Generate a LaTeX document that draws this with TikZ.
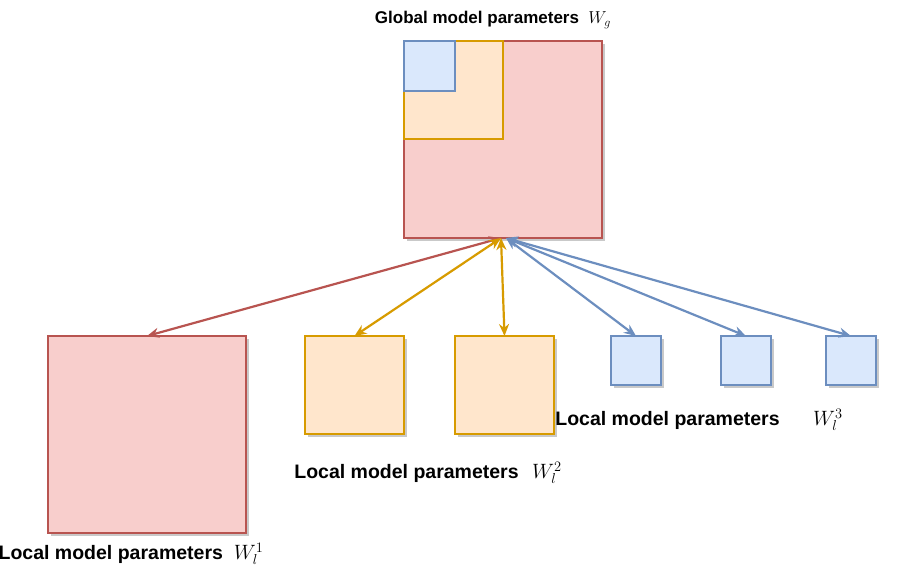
\documentclass[tikz,border=0pt]{standalone}
\usepackage{fontspec}
\setmainfont{Liberation Sans}
\usetikzlibrary{shadows,arrows.meta}
\definecolor{rf}{HTML}{F8CECC}\definecolor{rs}{HTML}{B85450}
\definecolor{yf}{HTML}{FFE6CC}\definecolor{ys}{HTML}{D79B00}
\definecolor{bf}{HTML}{DAE8FC}\definecolor{bs}{HTML}{6C8EBF}
\tikzset{
 bx/.style={draw, line width=2pt, inner sep=0pt, outer sep=0pt},
 sh/.style={drop shadow={shadow xshift=3pt, shadow yshift=-3pt, fill=black!30, opacity=0.7}},
 red/.style={bx, sh, fill=rf, draw=rs},
 yel/.style={bx, fill=yf, draw=ys},
 blu/.style={bx, fill=bf, draw=bs},
 lab/.style={font=\bfseries\fontsize{19.5}{22}\selectfont},
 con/.style={line width=2.2pt, {Stealth[length=12pt,width=10pt]}-{Stealth[length=12pt,width=10pt]}},
}
\begin{document}
\begin{tikzpicture}[x=1pt,y=-1pt]
\useasboundingbox (0,0) rectangle (902,579);
\node[red, minimum width=198pt, minimum height=197pt] (g) at (503,139.5) {};
\node[yel, minimum width=99pt, minimum height=98pt] (gy) at (453.5,90) {};
\node[blu, minimum width=51pt, minimum height=50pt] (gb) at (429.5,66) {};
\node[lab, font=\bfseries\fontsize{17}{20}\selectfont] (tg) at (493,20) {Global model parameters \ $W_g$};
\node[red, minimum width=198pt, minimum height=197pt] (l1) at (147,434.5) {};
\node[yel, sh, minimum width=99pt, minimum height=98pt] (y1) at (354.5,385) {};
\node[yel, sh, minimum width=99pt, minimum height=98pt] (y2) at (504.5,385) {};
\node[blu, sh, minimum width=50pt, minimum height=49pt] (b1) at (636,360.5) {};
\node[blu, sh, minimum width=50pt, minimum height=49pt] (b2) at (746,360.5) {};
\node[blu, sh, minimum width=50pt, minimum height=49pt] (b3) at (851,360.5) {};
\node[lab] (t1) at (131,554) {Local model parameters \ $W_l^1$};
\node[lab] (t2) at (428,473) {Local model parameters \hspace{8pt}$W_l^2$};
\node[lab] (t3) at (699,420) {Local model parameters \hspace{28pt}$W_l^3$};
\coordinate (c) at (501,238);
\coordinate (cb) at (506,238);
\draw[con, draw=rs] (c) -- (l1.north);
\draw[con, draw=ys] (c) -- (y1.north);
\draw[con, draw=ys] (c) -- (y2.north);
\draw[con, draw=bs] (cb) -- (b1.north);
\draw[con, draw=bs] (cb) -- (b2.north);
\draw[con, draw=bs] (cb) -- (b3.north);
\end{tikzpicture}
\end{document}
